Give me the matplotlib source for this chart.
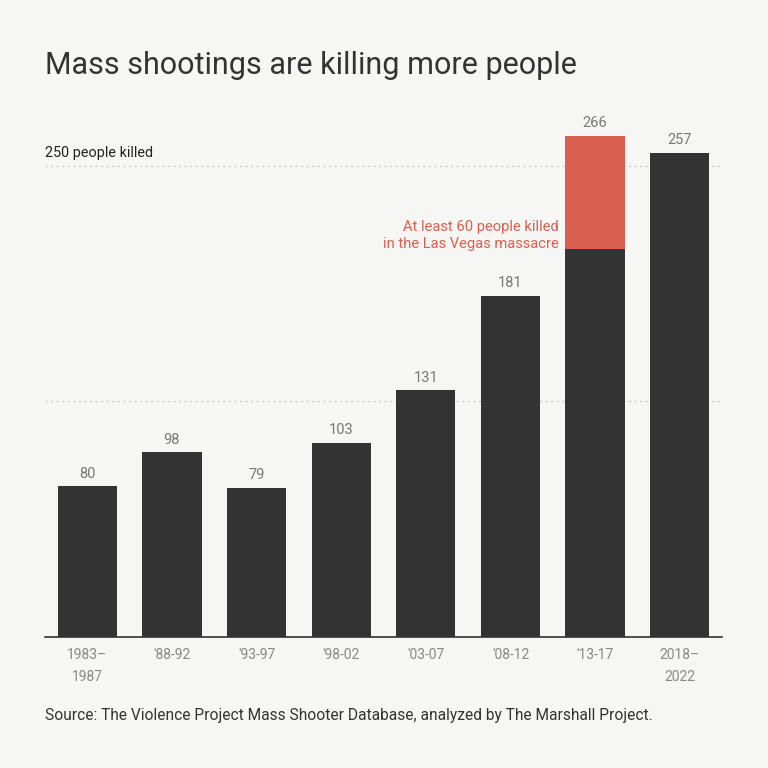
import matplotlib.pyplot as plt

# data
periods = ['1983–\n1987', "'88-92", "'93-97", "'98-02", "'03-07", "'08-12", "'13-17", '2018–\n2022']
killed = [80, 98, 79, 103, 131, 181, 266, 257]
vegas_idx = 6
vegas_killed = 60

bg = '#f6f6f4'
dark = '#333333'
red = '#d95f4f'

plt.rcParams['font.family'] = ['Roboto', 'DejaVu Sans']

fig = plt.figure(figsize=(7.68, 7.68), dpi=100, facecolor=bg)
ax = fig.add_axes([0.0586, 0.1706, 0.8814, 0.6624], facecolor=bg)

x = list(range(len(periods)))
base = [v - vegas_killed if i == vegas_idx else v for i, v in enumerate(killed)]
ax.bar(x, base, width=0.7, color=dark, zorder=2)
ax.bar([vegas_idx], [vegas_killed], bottom=[base[vegas_idx]], width=0.7, color=red, zorder=2)

for i, v in enumerate(killed):
    ax.text(i, v + 3, str(v), ha='center', va='bottom', fontsize=10.5, color='#777777')

# gridlines
for g in [125, 250]:
    ax.axhline(g, color='#c8c8c8', lw=0.8, ls=(0, (2, 3)), zorder=1)

ax.text(-0.5, 253, '250 people killed', ha='left', va='bottom', fontsize=10.4, color='#222222')
ax.text(vegas_idx - 0.43, 213, 'At least 60 people killed\nin the Las Vegas massacre',
        ha='right', va='center', fontsize=10.6, color=red, linespacing=1.3)

ax.set_xlim(-0.5, 7.5)
ax.set_ylim(0, 270)
ax.set_xticks(x)
ax.set_xticklabels(periods, fontsize=10, color='#888888', linespacing=1.75)
ax.tick_params(axis='x', length=0, pad=8)
ax.set_yticks([])
for s in ['top', 'right', 'left']:
    ax.spines[s].set_visible(False)
ax.spines['bottom'].set_color(dark)
ax.spines['bottom'].set_linewidth(1.2)

fig.text(0.0586, 0.915, 'Mass shootings are killing more people', fontsize=22,
         color='#333333', ha='left', va='center')
fig.text(0.0586, 0.068, 'Source: The Violence Project Mass Shooter Database, analyzed by The Marshall Project.',
         fontsize=11.2, color='#333333', ha='left', va='center')

fig.savefig('out.png', dpi=100, facecolor=bg)
